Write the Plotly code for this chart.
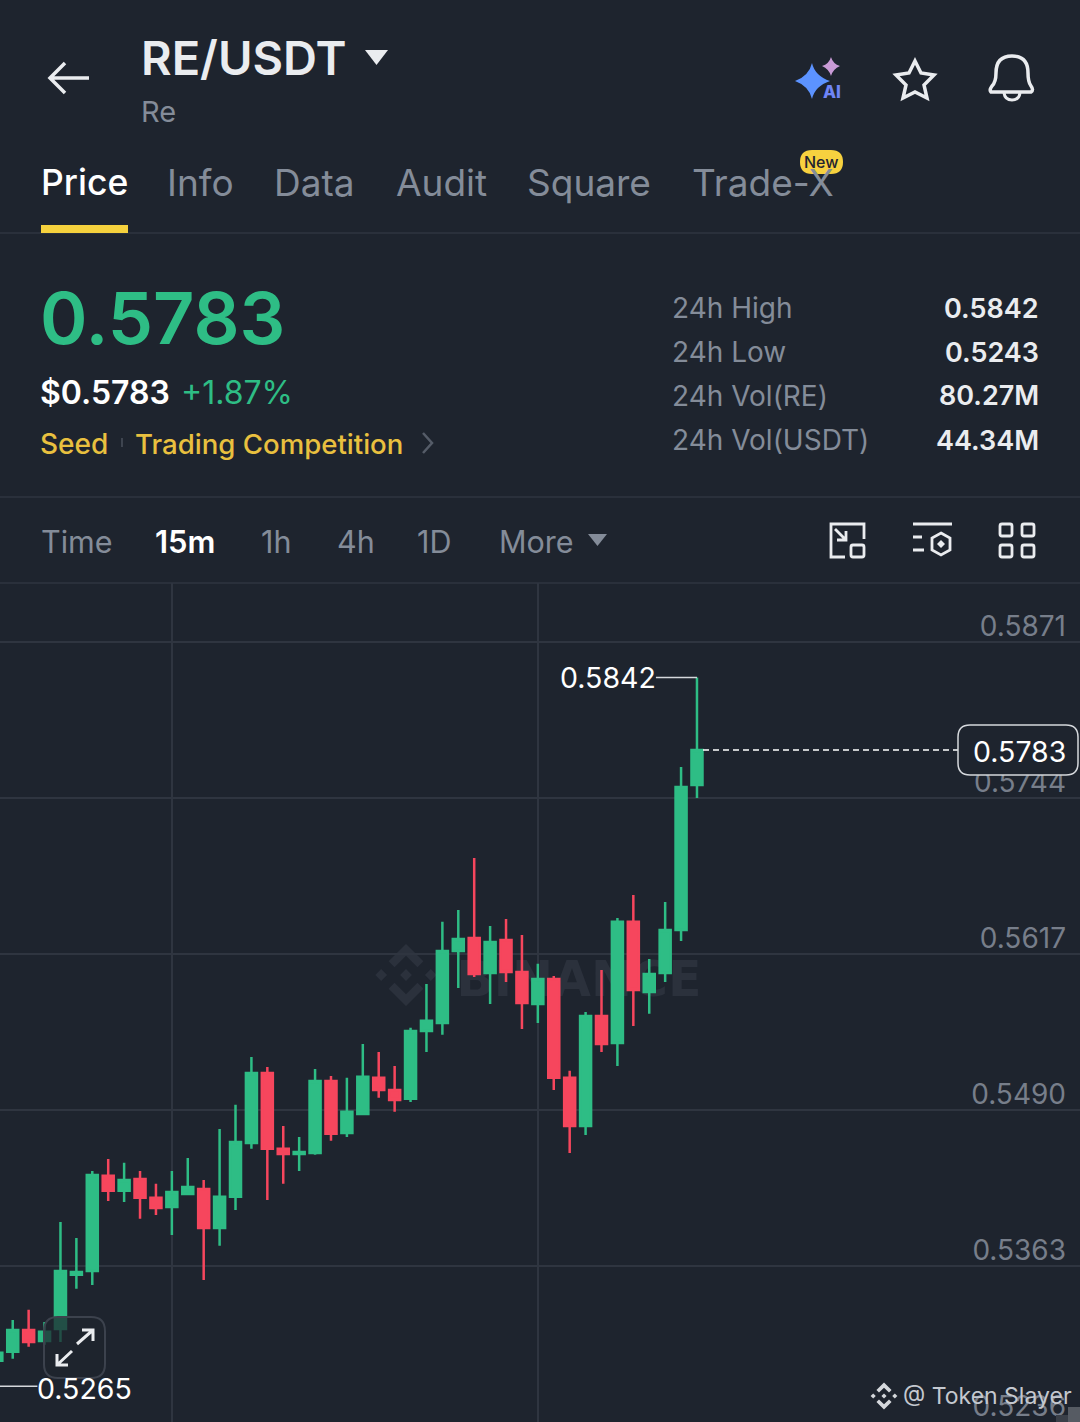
import re
import plotly.graph_objects as go

W, H = 1080, 1422
BG = "#1e242e"
UP = "#2ebd85"
DOWN = "#f6465d"
WHITE = "#eaecef"
GRAY = "#848c99"
YELLOW = "#e9c03f"
LINE = "#2f3540"
FONT = "Inter"

# candles, left to right
candle_index = list(range(45))
opens = [.52857, .5293, .53109, .53019, .53117, .53557, .53589, .54363, .54241, .54338,
         .54184, .5411, .54216, .54257, .53939, .54192, .54631, .55201, .54583, .54542,
         .5455, .55136, .54713, .54867, .55161, .55063, .5499, .55543, .55608, .56194,
         .5630, .56015, .56284, .56023, .55763, .55966, .55161, .5477, .55665, .55445,
         .56431, .55861, .56015, .56365, .57546]
highs = [.52987, .5319, .53272, .53174, .53988, .53858, .54403, .54501, .54469, .54403,
         .54298, .54403, .54509, .5433, .54745, .54941, .55331, .5525, .5477, .5468,
         .55234, .55177, .55161, .55437, .55372, .55258, .55568, .55926, .56431, .56528,
         .56952, .56398, .56455, .56325, .56089, .55991, .55218, .55698, .5604, .56463,
         .5665, .56129, .56593, .57692, .5842]
lows = [.5284, .52873, .52971, .52987, .53011, .53443, .53475, .54159, .54151, .54013,
        .54045, .53882, .54216, .53516, .53793, .54086, .54583, .54167, .54298, .54403,
        .54534, .54648, .5468, .54867, .54998, .54884, .54965, .55372, .55511, .55893,
        .55983, .55763, .55942, .55559, .55608, .55063, .5455, .54696, .55372, .55258,
        .55584, .55682, .55942, .56276, .5744]
closes = [.52922, .53109, .53011, .53093, .53589, .53581, .54371, .54241, .5433, .54184,
          .54102, .54232, .54273, .53939, .54192, .54639, .55201, .54583, .54542, .54558,
          .55136, .54705, .54884, .55169, .55063, .54981, .55543, .55625, .56194, .56292,
          .56007, .56268, .56023, .55771, .55966, .55161, .5477, .55665, .55437, .56431,
          .55877, .56007, .56365, .5753, .5783]

price_ticks = [0.5871, 0.5744, 0.5617, 0.5490, 0.5363, 0.5236]
price_labels = ["0.5871", "0.5744", "0.5617", "0.5490", "0.5363", "0.5236"]
grid_candles = [11, 34]

last_price = 0.5783
high_price = 0.5842
low_price = 0.5265

tabs = [("Price", 42), ("Info", 168), ("Data", 275), ("Audit", 397), ("Square", 528), ("Trade-X", 693)]
stat_names = ["24h High", "24h Low", "24h Vol(RE)", "24h Vol(USDT)"]
stat_values = ["0.5842", "0.5243", "80.27M", "44.34M"]
intervals = [("Time", 42), ("15m", 156), ("1h", 262), ("4h", 338), ("1D", 418), ("More", 500)]


def to_paper(m):
    return f"{float(m.group(1)) / W:.5f} {1 - float(m.group(2)) / H:.5f}"


def px_path(d):
    return re.sub(r"(-?[\d.]+) (-?[\d.]+)", to_paper, d)


def round_rect(x0, y0, x1, y1, r):
    return (f"M{x0 + r} {y0} L{x1 - r} {y0} Q{x1} {y0} {x1} {y0 + r} L{x1} {y1 - r} Q{x1} {y1} {x1 - r} {y1} "
            f"L{x0 + r} {y1} Q{x0} {y1} {x0} {y1 - r} L{x0} {y0 + r} Q{x0} {y0} {x0 + r} {y0} Z")


fig = go.Figure()

fig.add_trace(go.Candlestick(
    x=candle_index,
    open=opens,
    high=highs,
    low=lows,
    close=closes,
    increasing=dict(line=dict(color=UP, width=2.5), fillcolor=UP),
    decreasing=dict(line=dict(color=DOWN, width=2.5), fillcolor=DOWN),
    whiskerwidth=0,
    hoverinfo="skip",
))

# leader lines for the high and low labels
fig.add_trace(go.Scatter(x=[41.42, candle_index[-1]], y=[high_price, high_price], mode="lines",
                         line=dict(color="#d5d8dc", width=1.5), hoverinfo="skip"))
fig.add_trace(go.Scatter(x=[0.16, 2.55], y=[low_price, low_price], mode="lines",
                         line=dict(color="#d5d8dc", width=1.5), hoverinfo="skip"))

fig.update_layout(
    width=W,
    height=H,
    margin=dict(l=0, r=0, t=0, b=0),
    paper_bgcolor=BG,
    plot_bgcolor=BG,
    showlegend=False,
    boxgap=0.1,
    boxgroupgap=0.23,
    font=dict(family=FONT),
    xaxis=dict(
        range=[0.2, 68.07],
        rangeslider_visible=False,
        tickvals=grid_candles,
        showticklabels=False,
        showgrid=True,
        gridcolor=LINE,
        gridwidth=1.5,
        zeroline=False,
    ),
    yaxis=dict(
        domain=[0, (H - 583) / H],
        range=[0.52359, 0.5919],
        side="right",
        tickvals=price_ticks,
        ticktext=price_labels,
        ticks="",
        ticklabelposition="inside",
        ticklabelstandoff=11,
        ticklabelshift=-16,
        ticklabeloverflow="allow",
        tickfont=dict(family=FONT, size=28, color="#777e8a"),
        showgrid=True,
        gridcolor=LINE,
        gridwidth=1.5,
        zeroline=False,
    ),
)


def text(x, y, s, size, color, anchor="left", weight=400):
    # annotations sit about 2px inside their anchor
    nudge = {"left": -2, "right": 2, "center": 0}[anchor]
    fig.add_annotation(
        x=(x + nudge) / W, y=1 - y / H, xref="paper", yref="paper", text=s, showarrow=False,
        xanchor=anchor, yanchor="middle", borderpad=0,
        font=dict(family=FONT, size=size, color=color, weight=weight),
    )


def stroke(d, color=WHITE, width=3, fill=None, layer="above"):
    fig.add_shape(type="path", path=px_path(d), xref="paper", yref="paper", layer=layer,
                  line=dict(color=color, width=width), fillcolor=fill)


def solid(d, color, layer="above"):
    fig.add_shape(type="path", path=px_path(d), xref="paper", yref="paper", layer=layer,
                  line=dict(width=0), fillcolor=color)


def binance_logo(cx, cy, r, color, layer):
    def pts(p):
        return "M" + " L".join(f"{cx + a * r:.2f} {cy + b * r:.2f}" for a, b in p) + " Z"
    solid(pts([(0, -.19), (.19, 0), (0, .19), (-.19, 0)]), color, layer)
    solid(pts([(-.8, -.19), (-.61, 0), (-.8, .19), (-.99, 0)]), color, layer)
    solid(pts([(.8, -.19), (.99, 0), (.8, .19), (.61, 0)]), color, layer)
    solid(pts([(0, -1), (.56, -.44), (.37, -.25), (0, -.62), (-.37, -.25), (-.56, -.44)]), color, layer)
    solid(pts([(0, 1), (.56, .44), (.37, .25), (0, .62), (-.37, .25), (-.56, .44)]), color, layer)


# separators
for sep_y in [233, 497, 583]:
    stroke(f"M0 {sep_y} L{W} {sep_y}", color=LINE, width=1.5)

# watermark, behind the candles
binance_logo(406, 975, 31, "#2b313c", "below")
fig.add_shape(type="rect", x0=450 / W, x1=708 / W, y0=1 - 1000 / H, y1=1 - 950 / H, xref="paper", yref="paper",
              layer="below", line=dict(width=0), fillcolor="rgba(0,0,0,0)",
              label=dict(text="BINANCE", textposition="middle center",
                         font=dict(family="DejaVu Sans", size=49, color="#2b313c", weight=700)))

# header
stroke("M89 78 L50 78 M65 63 L50 78 L65 93", width=3.5)
text(142, 58, "RE/USDT", 47, WHITE, weight=600)
solid("M365 50 L388 50 L376.5 65 Z", WHITE)
text(142, 111, "Re", 29, GRAY)

# AI, star and bell icons
solid("M812 63 Q815 76 830 81 Q815 86 812 99 Q809 86 795 81 Q809 76 812 63 Z", "#5c93ff")
solid("M831 57 Q833 64 840 66 Q833 69 831 76 Q829 69 822 66 Q829 64 831 57 Z", "#c99bd6")
text(832, 92, "AI", 17, "#6f85f5", anchor="center", weight=800)
stroke("M915 61 L921 73 L934 75 L924 85 L927 98 L915 92 L903 98 L906 85 L896 75 L909 73 Z", width=3.5)
stroke("M991 92 L1031 92 Q1034 90 1031 86 Q1028 82 1028 73 Q1028 56 1012 56 Q996 56 996 73 Q996 82 992 86 Q989 90 991 92 Z", width=3.5)
stroke("M1004 93 Q1005 100 1012 100 Q1019 100 1020 93", width=3)

# tabs
for i, (name, tab_x) in enumerate(tabs):
    text(tab_x, 182, name, 35.5 if i == 0 else 37, "#ffffff" if i == 0 else GRAY, weight=500 if i == 0 else 400)
solid("M41 225 L128 225 L128 233 L41 233 Z", "#f5d13d")
solid(round_rect(800, 150, 843, 174, 12), "#f7d13f")
text(821.5, 162, "New", 16, "#1f2430", anchor="center", weight=500)

# price block
text(41, 318, "0.5783", 72, UP, weight=600)
text(41, 392, "$0.5783", 32, "#ffffff", weight=600)
text(182, 392, "+1.87%", 32, UP)
text(41, 444, "Seed", 28, YELLOW, weight=500)
stroke("M122 438 L122 447", color="#4a505c", width=1.5)
text(136, 444, "Trading Competition", 27.6, YELLOW, weight=500)
stroke("M423 433 L432 443 L423 453", color="#555c68", width=2.5)

for i, name in enumerate(stat_names):
    row_y = 308 + i * 44
    text(673, row_y, name, 28, GRAY)
    text(1038, row_y, stat_values[i], 27, WHITE, anchor="right", weight=600)

# interval row
for name, iv_x in intervals:
    active = name == "15m"
    text(iv_x, 541, name, 31 if active else 30.5, "#ffffff" if active else GRAY, weight=600 if active else 400)
solid("M588 534 L607 534 L597.5 546 Z", GRAY)

stroke("M845 557 L831 557 L831 524 L864 524 L864 539", width=2.8)
stroke("M835 529 L846 540 M846 531 L846 540 L837 540", width=2.8)
stroke(round_rect(851, 545, 864, 557, 2), width=2.8)
stroke("M913 524 L952 524 M913 537 L922 537 M913 550 L924 550", width=2.8)
stroke("M941 533 L950 538 L950 550 L941 555 L932 550 L932 538 Z", width=2.8)
solid("M941 540 L945 544 L941 548 L937 544 Z", WHITE)
for sx in (1000, 1022):
    for sy in (524, 545):
        stroke(round_rect(sx, sy, sx + 12, sy + 12, 2), width=2.8)

# chart labels
text(561, 678, f"{high_price:.4f}", 28.5, "#ffffff")
text(38, 1388, f"{low_price:.4f}", 28.5, "#ffffff")

# last price line and tag
fig.add_shape(type="line", x0=703 / W, x1=958 / W, y0=last_price, y1=last_price, xref="paper", yref="y",
              layer="above", line=dict(color="#ffffff", width=1.5, dash="6px,4px"))
stroke(round_rect(958, 725, 1078, 775, 12), color="#d5d8dc", width=1.5, fill=BG)
text(1019, 751, f"{last_price:.4f}", 28.5, "#ffffff", anchor="center")

# expand button
stroke(round_rect(44, 1317, 105, 1378, 14), color="#3c424d", width=2, fill="rgba(30,36,46,0.72)")
stroke("M77 1344 L93 1330 M82 1330 L93 1330 L93 1341", width=3)
stroke("M72 1351 L57 1365 M57 1354 L57 1365 L68 1365", width=3)

# footer credit and the scrap in the corner
binance_logo(884, 1396, 13.5, "#d5d8dc", "above")
text(904, 1396, "@ Token Slayer", 23, "#c4c8cf")
solid("M1056 1415 L1068 1415 L1068 1422 L1056 1422 Z", "#3a3f48")
solid("M1068 1407 L1080 1407 L1080 1422 L1068 1422 Z", "#565b63")

fig.write_html("out.html", config={"displayModeBar": False},
               post_script=f"document.body.style.margin='0';document.body.style.background='{BG}';")
